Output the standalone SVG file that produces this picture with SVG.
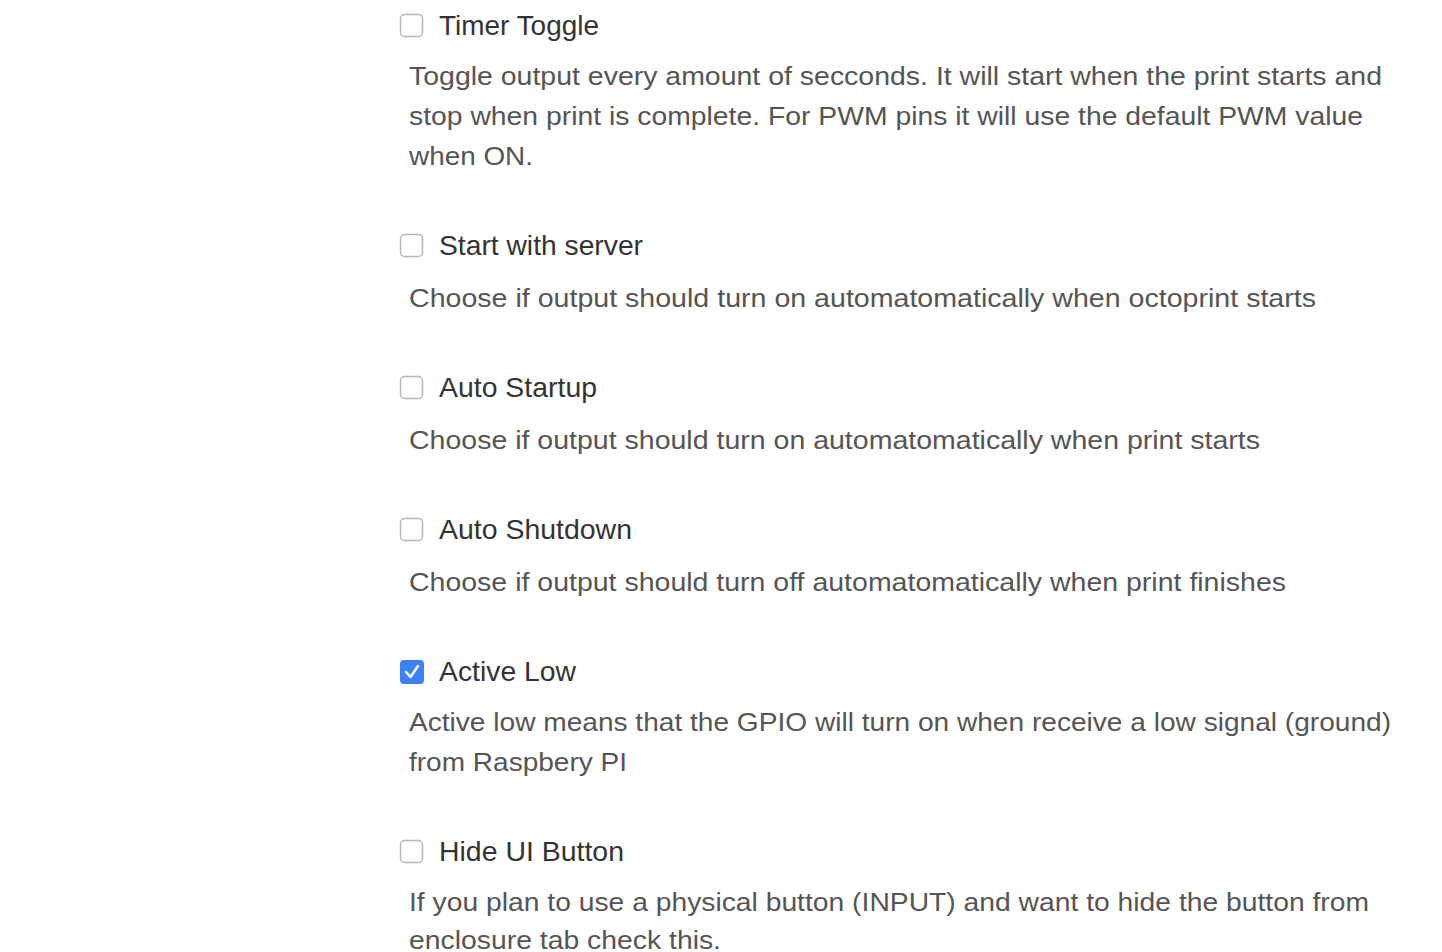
<svg xmlns="http://www.w3.org/2000/svg" width="1442" height="952" viewBox="0 0 1442 952">
<style>
.lbl{font-family:"Liberation Sans",Arial,sans-serif;font-size:28px;fill:#333}
.desc{font-family:"Liberation Sans",Arial,sans-serif;font-size:26.5px;fill:#555}
.cb{fill:#fff;stroke:#b8b8b8;stroke-width:1.5}
</style>
<rect width="1442" height="952" fill="#fff"/>
<g id="timer"><rect class="cb" x="400.5" y="14.5" width="22" height="22" rx="4"/><text class="lbl" x="439" y="35" textLength="160" lengthAdjust="spacingAndGlyphs">Timer Toggle</text>
<text class="desc" x="409" y="85" textLength="973" lengthAdjust="spacingAndGlyphs">Toggle output every amount of secconds. It will start when the print starts and</text>
<text class="desc" x="409" y="125" textLength="954" lengthAdjust="spacingAndGlyphs">stop when print is complete. For PWM pins it will use the default PWM value</text>
<text class="desc" x="409" y="165" textLength="124" lengthAdjust="spacingAndGlyphs">when ON.</text></g>
<g id="server"><rect class="cb" x="400.5" y="234.5" width="22" height="22" rx="4"/><text class="lbl" x="439" y="255" textLength="204" lengthAdjust="spacingAndGlyphs">Start with server</text>
<text class="desc" x="409" y="307" textLength="907" lengthAdjust="spacingAndGlyphs">Choose if output should turn on automatomatically when octoprint starts</text></g>
<g id="startup"><rect class="cb" x="400.5" y="376.5" width="22" height="22" rx="4"/><text class="lbl" x="439" y="397" textLength="158" lengthAdjust="spacingAndGlyphs">Auto Startup</text>
<text class="desc" x="409" y="449" textLength="851" lengthAdjust="spacingAndGlyphs">Choose if output should turn on automatomatically when print starts</text></g>
<g id="shutdown"><rect class="cb" x="400.5" y="518.5" width="22" height="22" rx="4"/><text class="lbl" x="439" y="539" textLength="193" lengthAdjust="spacingAndGlyphs">Auto Shutdown</text>
<text class="desc" x="409" y="591" textLength="877" lengthAdjust="spacingAndGlyphs">Choose if output should turn off automatomatically when print finishes</text></g>
<g id="activelow"><rect x="400" y="660" width="24" height="24" rx="4" fill="#3b82f6"/><path d="M406 672 L410.5 677 L418 666" fill="none" stroke="#fff" stroke-width="2.5" stroke-linecap="round" stroke-linejoin="round"/><text class="lbl" x="439" y="681" textLength="137" lengthAdjust="spacingAndGlyphs">Active Low</text>
<text class="desc" x="409" y="731" textLength="982" lengthAdjust="spacingAndGlyphs">Active low means that the GPIO will turn on when receive a low signal (ground)</text>
<text class="desc" x="409" y="771" textLength="218" lengthAdjust="spacingAndGlyphs">from Raspbery PI</text></g>
<g id="hide"><rect class="cb" x="400.5" y="840.5" width="22" height="22" rx="4"/><text class="lbl" x="439" y="861" textLength="185" lengthAdjust="spacingAndGlyphs">Hide UI Button</text>
<text class="desc" x="409" y="911" textLength="960" lengthAdjust="spacingAndGlyphs">If you plan to use a physical button (INPUT) and want to hide the button from</text>
<text class="desc" x="409" y="949" textLength="312" lengthAdjust="spacingAndGlyphs">enclosure tab check this.</text></g>
</svg>
